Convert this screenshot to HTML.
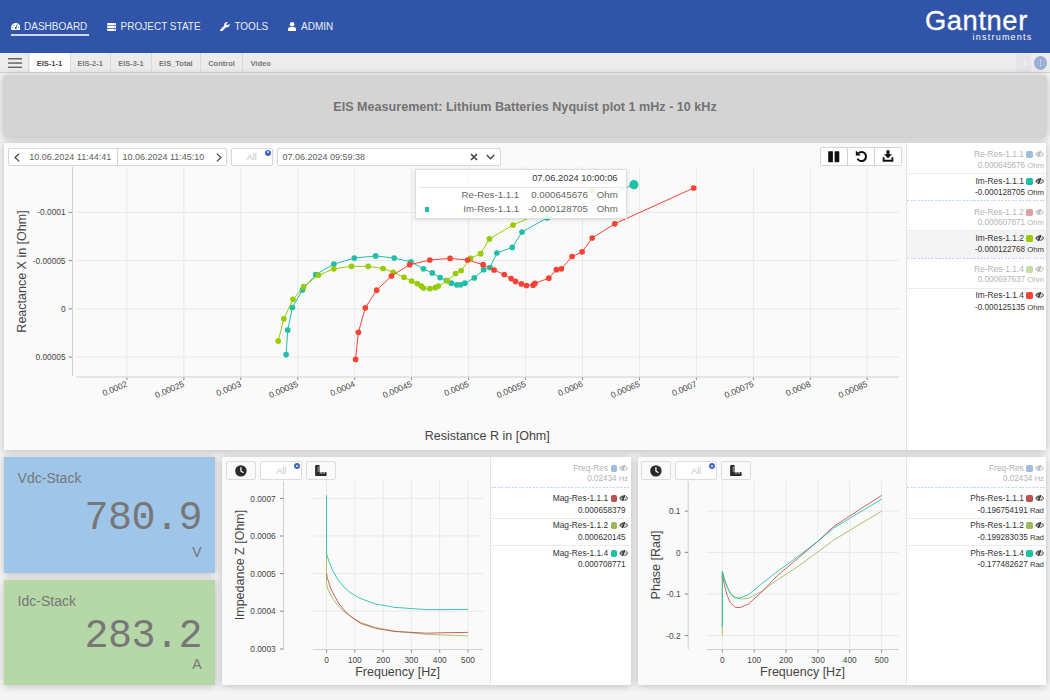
<!DOCTYPE html>
<html lang="en">
<head>
<meta charset="utf-8">
<title>GI.bench Dashboard</title>
<style>
*{box-sizing:border-box;margin:0;padding:0}
html,body{width:1050px;height:700px;overflow:hidden}
body{background:#f5f5f5;font-family:"Liberation Sans",Arial,sans-serif;color:#333;position:relative}
.abs{position:absolute}
svg text{font-family:"Liberation Sans",Arial,sans-serif}
/* header */
#hdr{position:absolute;left:0;top:0;width:1050px;height:53px;background:#3055a8}
.nav{position:absolute;top:21px;height:12px;line-height:12px;font-size:10px;color:rgba(255,255,255,.92);white-space:nowrap}
#navline{position:absolute;left:10.5px;top:34px;width:78.5px;height:1.7px;background:rgba(255,255,255,.76)}
/* tab bar */
#tabs{position:absolute;left:0;top:53px;width:1050px;height:20px;background:#ececec;border-bottom:1px solid #d2d2d2}
.tab{position:absolute;top:0;height:19px;line-height:21.4px;font-size:7.5px;font-weight:bold;color:#777;text-align:center;border-right:1px solid #dadada}
.tab.act{background:#fff;color:#444}
/* panels */
.panel{position:absolute;background:#fafafa;box-shadow:0 1px 8px rgba(0,0,0,.24)}
.leg{position:absolute;background:#fff;border-left:1px solid #e4e4e4;overflow:hidden}
.box{position:absolute;background:#fff;border:1px solid #d6d6d6;border-radius:2px;height:18px;font-size:9px;line-height:16px;color:#5e5e5e;white-space:nowrap}
.box span{position:absolute;top:0}
.box svg{position:absolute}
.vd{position:absolute;top:0;width:1px;height:16px;background:#d2d2d2}
.li{position:absolute;right:0;left:0;height:0;font-size:8.4px;line-height:10px;color:#333;white-space:nowrap}
.li .n{position:absolute;right:23px}
.li .v{position:absolute;right:3px;font-size:8.15px}
.li .v b{font-weight:normal;font-size:7.8px;letter-spacing:-.15px}
.li .v u{display:inline-block;width:2.6px;text-decoration:none}
.li .sq{position:absolute;right:13.7px;width:6.9px;height:7.1px;border-radius:1.7px}
.li .eye{position:absolute;right:2.6px}
.li.dim{color:#b4b4b4}
#l1 .n,#l3 .n{right:22.6px}#l1 .v,#l3 .v{right:2.6px}#l1 .sq,#l3 .sq{right:13.2px}#l1 .eye,#l3 .eye{right:2.1px}
.sep{position:absolute;left:0;right:0;height:1px;background:#ececec}
.dsep{position:absolute;left:0;right:0;height:1px;background:repeating-linear-gradient(90deg,#c3d4fa 0,#c3d4fa 2px,transparent 2px,transparent 3.5px)}
.tile{position:absolute;left:3.6px;width:211.5px;color:#777;box-shadow:0 1px 8px rgba(0,0,0,.24)}
.tile .t{position:absolute;left:14px;top:13px;font-size:14px;line-height:16px}
.tile .num{position:absolute;right:13px;font-family:"Liberation Mono",monospace;font-size:40px;letter-spacing:-.5px;line-height:40px}
.tile .u{position:absolute;right:13.5px;font-size:14px;line-height:16px}
.badge{width:6px;height:6px;border-radius:50%;background:#4166c0}
.badge:after{content:"";position:absolute;left:1.8px;top:1.9px;width:2.400px;height:1.800px;background:#c5d0ee;border-radius:.600px}
#tip{position:absolute;left:415px;top:169px;width:211.5px;height:50px;background:rgba(255,255,255,.86);border:1px solid #dedede;box-shadow:0 1px 4px rgba(0,0,0,.13);font-size:9.700px;line-height:11px;color:#666;white-space:nowrap}
#tip span{position:absolute}
</style>
</head>
<body>
<!-- HEADER -->
<div id="hdr">
  <svg class="abs" style="left:10.5px;top:22.8px" width="9.6" height="7.2" viewBox="0 0 20 15"><path d="M10 0A10 10 0 0 0 0 10c0 1.8.5 3.5 1.300 5h17.400A10 10 0 0 0 10 0z" fill="#fff"/><circle cx="10" cy="10.500" r="2.200" fill="#3055a8"/><path d="M10 10.500L13 3.500" stroke="#3055a8" stroke-width="1.800" stroke-linecap="round"/><circle cx="4" cy="9" r="1.100" fill="#3055a8"/><circle cx="6" cy="4.800" r="1.100" fill="#3055a8"/><circle cx="16" cy="9" r="1.100" fill="#3055a8"/></svg>
  <div class="nav" style="left:24px">DASHBOARD</div>
  <svg class="abs" style="left:107px;top:22.8px" width="9.2" height="7.9" viewBox="0 0 18 16"><rect x="0" y="0" width="18" height="4.400" rx="1" fill="#fff"/><rect x="0" y="5.800" width="18" height="4.400" rx="1" fill="#fff"/><rect x="0" y="11.600" width="18" height="4.400" rx="1" fill="#fff"/><circle cx="15" cy="2.200" r="1" fill="#3055a8"/><circle cx="15" cy="8" r="1" fill="#3055a8"/><circle cx="15" cy="13.800" r="1" fill="#3055a8"/></svg>
  <div class="nav" style="left:120.600px">PROJECT STATE</div>
  <svg class="abs" style="left:220.300px;top:21.600px" width="9.600" height="9.600" viewBox="0 0 512 512"><path fill="#fff" d="M507.730 109.100c-2.240-9.030-13.540-12.090-20.120-5.510l-74.360 74.360-67.880-11.310-11.310-67.880 74.360-74.360c6.620-6.620 3.430-17.900-5.660-20.160-47.380-11.740-99.550.910-136.580 37.930-39.640 39.640-50.550 97.100-34.050 147.200L18.740 402.760c-24.990 24.990-24.990 65.510 0 90.500 24.990 24.990 65.510 24.990 90.500 0l213.210-213.210c50.120 16.710 107.470 5.680 147.370-34.220 37.070-37.070 49.700-89.320 37.910-136.730z"/></svg>
  <div class="nav" style="left:234.400px">TOOLS</div>
  <svg class="abs" style="left:288px;top:22px" width="8.200" height="9.200" viewBox="0 0 16 18"><circle cx="8" cy="4.500" r="4.500" fill="#fff"/><path d="M0 18v-3.500C0 11.500 2.500 10 5 10h6c2.500 0 5 1.500 5 4.500V18z" fill="#fff"/></svg>
  <div class="nav" style="left:301.100px">ADMIN</div>
  <div id="navline"></div>
  <div class="abs" id="logo1" style="-webkit-text-stroke:.3px #fff;left:925px;top:5.5px;font-size:27.3px;color:#fff;letter-spacing:.6px;line-height:30px">Gantner</div>
  <div class="abs" id="logo2" style="left:972.500px;top:31.500px;font-size:9px;color:#fff;letter-spacing:1.230px;line-height:11px">instruments</div>
</div>
<!-- TABS -->
<div id="tabs">
  <svg class="abs" style="left:7.900px;top:4.900px" width="14" height="10.200" viewBox="0 0 14 10.200"><rect y="0" width="14" height="1.500" fill="#666"/><rect y="4.300" width="14" height="1.500" fill="#666"/><rect y="8.600" width="14" height="1.500" fill="#666"/></svg>
  <div class="abs" style="left:28px;top:0;width:1px;height:19px;background:#dadada"></div>
  <div class="tab act" style="left:29.500px;width:41px">EIS-1-1</div>
  <div class="tab" style="left:70.500px;width:40.300px">EIS-2-1</div>
  <div class="tab" style="left:110.800px;width:41.100px">EIS-3-1</div>
  <div class="tab" style="left:151.900px;width:49px">EIS_Total</div>
  <div class="tab" style="left:200.900px;width:42.200px">Control</div>
  <div class="tab" style="left:243.100px;width:35px;border-right:0">Video</div>
  <div class="abs" style="left:1016px;top:1px;width:15px;height:18px;background:#e3e5ea"></div>
  <svg class="abs" style="left:1021.500px;top:6.800px" width="5" height="7" viewBox="0 0 5 7"><path d="M.8.500L4 3.500.8 6.500" fill="none" stroke="#f1f1f1" stroke-width="1.300"/></svg>
  <div class="abs" style="left:1033.600px;top:3.200px;width:13.400px;height:13.400px;border-radius:50%;background:#9daed5"></div>
  <div class="abs" style="left:1039.500px;top:6.700px;width:1.700px;height:1.500px;background:#fff;box-shadow:0 2.500px 0 #e9edf5,0 5px 0 #fff"></div>
</div>
<!-- TITLE -->
<div class="abs" id="title" style="left:3.2px;top:75px;width:1043.6px;height:62px;background:#d4d4d4;border-radius:4px;box-shadow:0 1px 8px rgba(0,0,0,.24);text-align:center;line-height:64px;font-size:12.6px;font-weight:bold;color:#737373">EIS Measurement: Lithium Batteries Nyquist plot 1 mHz - 10 kHz</div>
<!-- MAIN PANEL -->
<div class="panel" id="p1" style="left:3.700px;top:143.300px;width:1042.700px;height:306.6px"></div>
<div class="panel" id="p2" style="left:222.300px;top:457px;width:408.800px;height:228px"></div>
<div class="panel" id="p3" style="left:638px;top:457px;width:408.400px;height:228px"></div>
<svg class="abs" style="left:0;top:0" width="1050" height="700" viewBox="0 0 1050 700"><g stroke="#e9e9e9" stroke-width="1"><line x1="126.9" y1="167" x2="126.9" y2="377"/><line x1="183.9" y1="167" x2="183.9" y2="377"/><line x1="240.8" y1="167" x2="240.8" y2="377"/><line x1="297.8" y1="167" x2="297.8" y2="377"/><line x1="354.7" y1="167" x2="354.7" y2="377"/><line x1="411.6" y1="167" x2="411.6" y2="377"/><line x1="468.6" y1="167" x2="468.6" y2="377"/><line x1="525.6" y1="167" x2="525.6" y2="377"/><line x1="582.5" y1="167" x2="582.5" y2="377"/><line x1="639.5" y1="167" x2="639.5" y2="377"/><line x1="696.4" y1="167" x2="696.4" y2="377"/><line x1="753.4" y1="167" x2="753.4" y2="377"/><line x1="810.3" y1="167" x2="810.3" y2="377"/><line x1="867.2" y1="167" x2="867.2" y2="377"/><line x1="76" y1="212.4" x2="899" y2="212.4"/><line x1="76" y1="260.6" x2="899" y2="260.6"/><line x1="76" y1="308.9" x2="899" y2="308.9"/><line x1="76" y1="357.1" x2="899" y2="357.1"/></g><g stroke="#d0d0d0" stroke-width="1"><line x1="72.5" y1="167" x2="72.5" y2="376"/><line x1="76" y1="377" x2="899" y2="377"/></g><g stroke="#777" stroke-width=".85"><line x1="68.5" y1="212.4" x2="72" y2="212.4"/><line x1="68.5" y1="260.6" x2="72" y2="260.6"/><line x1="68.5" y1="308.9" x2="72" y2="308.9"/><line x1="68.5" y1="357.1" x2="72" y2="357.1"/><line x1="126.9" y1="377.5" x2="126.9" y2="380"/><line x1="183.9" y1="377.5" x2="183.9" y2="380"/><line x1="240.8" y1="377.5" x2="240.8" y2="380"/><line x1="297.8" y1="377.5" x2="297.8" y2="380"/><line x1="354.7" y1="377.5" x2="354.7" y2="380"/><line x1="411.6" y1="377.5" x2="411.6" y2="380"/><line x1="468.6" y1="377.5" x2="468.6" y2="380"/><line x1="525.6" y1="377.5" x2="525.6" y2="380"/><line x1="582.5" y1="377.5" x2="582.5" y2="380"/><line x1="639.5" y1="377.5" x2="639.5" y2="380"/><line x1="696.4" y1="377.5" x2="696.4" y2="380"/><line x1="753.4" y1="377.5" x2="753.4" y2="380"/><line x1="810.3" y1="377.5" x2="810.3" y2="380"/><line x1="867.2" y1="377.5" x2="867.2" y2="380"/></g><text x="65.5" y="215.2" text-anchor="end" font-size="8.3" fill="#444">-0.0001</text><text x="65.5" y="263.5" text-anchor="end" font-size="8.3" fill="#444">-0.00005</text><text x="65.5" y="311.8" text-anchor="end" font-size="8.3" fill="#444">0</text><text x="65.5" y="360.1" text-anchor="end" font-size="8.3" fill="#444">0.00005</text><text transform="translate(127.9,386.2) rotate(-23)" text-anchor="end" font-size="8.5" fill="#444">0.0002</text><text transform="translate(184.9,386.2) rotate(-23)" text-anchor="end" font-size="8.5" fill="#444">0.00025</text><text transform="translate(241.8,386.2) rotate(-23)" text-anchor="end" font-size="8.5" fill="#444">0.0003</text><text transform="translate(298.8,386.2) rotate(-23)" text-anchor="end" font-size="8.5" fill="#444">0.00035</text><text transform="translate(355.7,386.2) rotate(-23)" text-anchor="end" font-size="8.5" fill="#444">0.0004</text><text transform="translate(412.6,386.2) rotate(-23)" text-anchor="end" font-size="8.5" fill="#444">0.00045</text><text transform="translate(469.6,386.2) rotate(-23)" text-anchor="end" font-size="8.5" fill="#444">0.0005</text><text transform="translate(526.6,386.2) rotate(-23)" text-anchor="end" font-size="8.5" fill="#444">0.00055</text><text transform="translate(583.5,386.2) rotate(-23)" text-anchor="end" font-size="8.5" fill="#444">0.0006</text><text transform="translate(640.5,386.2) rotate(-23)" text-anchor="end" font-size="8.5" fill="#444">0.00065</text><text transform="translate(697.4,386.2) rotate(-23)" text-anchor="end" font-size="8.5" fill="#444">0.0007</text><text transform="translate(754.4,386.2) rotate(-23)" text-anchor="end" font-size="8.5" fill="#444">0.00075</text><text transform="translate(811.3,386.2) rotate(-23)" text-anchor="end" font-size="8.5" fill="#444">0.0008</text><text transform="translate(868.2,386.2) rotate(-23)" text-anchor="end" font-size="8.5" fill="#444">0.00085</text><text x="487.2" y="440" text-anchor="middle" font-size="12.5" fill="#444">Resistance R in [Ohm]</text><text transform="translate(25.5,271.5) rotate(-90)" text-anchor="middle" font-size="12.5" fill="#444">Reactance X in [Ohm]</text><polyline points="286.1,354.6 287.7,330.1 292.4,307.5 302.4,289.9 315.7,274.5 333.9,264.1 354.3,258.1 375.7,255.9 394.2,258.1 410.9,261.9 423.5,268.8 432.3,272.9 440.1,277.6 446.4,280.6 451.4,283.2 456.8,284.8 460.5,284.8 464.9,283.2 474.3,277.9 483.7,269.7 490.0,267.5 496.9,253.0 512.3,247.4 522.0,232.0 547.3,217.8 633.9,184.7" fill="none" stroke="#22bfa8" stroke-width="1"/><circle cx="286.1" cy="354.6" r="2.85" fill="#22bfa8"/><circle cx="287.7" cy="330.1" r="2.85" fill="#22bfa8"/><circle cx="292.4" cy="307.5" r="2.85" fill="#22bfa8"/><circle cx="302.4" cy="289.9" r="2.85" fill="#22bfa8"/><circle cx="315.7" cy="274.5" r="2.85" fill="#22bfa8"/><circle cx="333.9" cy="264.1" r="2.85" fill="#22bfa8"/><circle cx="354.3" cy="258.1" r="2.85" fill="#22bfa8"/><circle cx="375.7" cy="255.9" r="2.85" fill="#22bfa8"/><circle cx="394.2" cy="258.1" r="2.85" fill="#22bfa8"/><circle cx="410.9" cy="261.9" r="2.85" fill="#22bfa8"/><circle cx="423.5" cy="268.8" r="2.85" fill="#22bfa8"/><circle cx="432.3" cy="272.9" r="2.85" fill="#22bfa8"/><circle cx="440.1" cy="277.6" r="2.85" fill="#22bfa8"/><circle cx="446.4" cy="280.6" r="2.85" fill="#22bfa8"/><circle cx="451.4" cy="283.2" r="2.85" fill="#22bfa8"/><circle cx="456.8" cy="284.8" r="2.85" fill="#22bfa8"/><circle cx="460.5" cy="284.8" r="2.85" fill="#22bfa8"/><circle cx="464.9" cy="283.2" r="2.85" fill="#22bfa8"/><circle cx="474.3" cy="277.9" r="2.85" fill="#22bfa8"/><circle cx="483.7" cy="269.7" r="2.85" fill="#22bfa8"/><circle cx="490.0" cy="267.5" r="2.85" fill="#22bfa8"/><circle cx="496.9" cy="253.0" r="2.85" fill="#22bfa8"/><circle cx="512.3" cy="247.4" r="2.85" fill="#22bfa8"/><circle cx="522.0" cy="232.0" r="2.85" fill="#22bfa8"/><circle cx="547.3" cy="217.8" r="2.85" fill="#22bfa8"/><polyline points="278.2,341.1 283.9,318.8 293.0,299.3 303.7,286.7 318.5,275.1 333.9,268.8 351.5,266.3 368.2,266.3 383.0,268.5 393.3,272.3 404.0,277.3 411.6,281.1 417.2,283.6 421.3,286.1 423.5,288.0 429.8,288.6 435.2,287.7 438.3,286.1 447.3,280.8 455.6,273.5 461.1,270.5 470.5,258.4 480.6,253.7 489.4,238.9 513.0,225.0 592.0,190.4" fill="none" stroke="#97cc04" stroke-width="1"/><circle cx="278.2" cy="341.1" r="2.85" fill="#97cc04"/><circle cx="283.9" cy="318.8" r="2.85" fill="#97cc04"/><circle cx="293.0" cy="299.3" r="2.85" fill="#97cc04"/><circle cx="303.7" cy="286.7" r="2.85" fill="#97cc04"/><circle cx="318.5" cy="275.1" r="2.85" fill="#97cc04"/><circle cx="333.9" cy="268.8" r="2.85" fill="#97cc04"/><circle cx="351.5" cy="266.3" r="2.85" fill="#97cc04"/><circle cx="368.2" cy="266.3" r="2.85" fill="#97cc04"/><circle cx="383.0" cy="268.5" r="2.85" fill="#97cc04"/><circle cx="393.3" cy="272.3" r="2.85" fill="#97cc04"/><circle cx="404.0" cy="277.3" r="2.85" fill="#97cc04"/><circle cx="411.6" cy="281.1" r="2.85" fill="#97cc04"/><circle cx="417.2" cy="283.6" r="2.85" fill="#97cc04"/><circle cx="421.3" cy="286.1" r="2.85" fill="#97cc04"/><circle cx="423.5" cy="288.0" r="2.85" fill="#97cc04"/><circle cx="429.8" cy="288.6" r="2.85" fill="#97cc04"/><circle cx="435.2" cy="287.7" r="2.85" fill="#97cc04"/><circle cx="438.3" cy="286.1" r="2.85" fill="#97cc04"/><circle cx="447.3" cy="280.8" r="2.85" fill="#97cc04"/><circle cx="455.6" cy="273.5" r="2.85" fill="#97cc04"/><circle cx="461.1" cy="270.5" r="2.85" fill="#97cc04"/><circle cx="470.5" cy="258.4" r="2.85" fill="#97cc04"/><circle cx="480.6" cy="253.7" r="2.85" fill="#97cc04"/><circle cx="489.4" cy="238.9" r="2.85" fill="#97cc04"/><circle cx="513.0" cy="225.0" r="2.85" fill="#97cc04"/><circle cx="592.0" cy="190.4" r="2.85" fill="#97cc04"/><polyline points="355.6,359.4 358.4,332.3 365.3,307.8 376.7,290.2 391.4,276.0 409.7,264.7 429.8,260.0 450.1,258.4 467.6,260.0 483.1,264.7 494.1,270.0 504.2,274.5 511.1,278.6 515.5,281.4 521.4,283.9 526.5,285.5 533.1,285.2 535.0,283.3 548.8,278.2 556.4,269.7 561.4,268.8 572.1,256.5 582.1,251.8 592.2,238.0 614.8,223.8 693.7,188.0" fill="none" stroke="#f44336" stroke-width="1"/><circle cx="355.6" cy="359.4" r="2.85" fill="#f44336"/><circle cx="358.4" cy="332.3" r="2.85" fill="#f44336"/><circle cx="365.3" cy="307.8" r="2.85" fill="#f44336"/><circle cx="376.7" cy="290.2" r="2.85" fill="#f44336"/><circle cx="391.4" cy="276.0" r="2.85" fill="#f44336"/><circle cx="409.7" cy="264.7" r="2.85" fill="#f44336"/><circle cx="429.8" cy="260.0" r="2.85" fill="#f44336"/><circle cx="450.1" cy="258.4" r="2.85" fill="#f44336"/><circle cx="467.6" cy="260.0" r="2.85" fill="#f44336"/><circle cx="483.1" cy="264.7" r="2.85" fill="#f44336"/><circle cx="494.1" cy="270.0" r="2.85" fill="#f44336"/><circle cx="504.2" cy="274.5" r="2.85" fill="#f44336"/><circle cx="511.1" cy="278.6" r="2.85" fill="#f44336"/><circle cx="515.5" cy="281.4" r="2.85" fill="#f44336"/><circle cx="521.4" cy="283.9" r="2.85" fill="#f44336"/><circle cx="526.5" cy="285.5" r="2.85" fill="#f44336"/><circle cx="533.1" cy="285.2" r="2.85" fill="#f44336"/><circle cx="535.0" cy="283.3" r="2.85" fill="#f44336"/><circle cx="548.8" cy="278.2" r="2.85" fill="#f44336"/><circle cx="556.4" cy="269.7" r="2.85" fill="#f44336"/><circle cx="561.4" cy="268.8" r="2.85" fill="#f44336"/><circle cx="572.1" cy="256.5" r="2.85" fill="#f44336"/><circle cx="582.1" cy="251.8" r="2.85" fill="#f44336"/><circle cx="592.2" cy="238.0" r="2.85" fill="#f44336"/><circle cx="614.8" cy="223.8" r="2.85" fill="#f44336"/><circle cx="693.7" cy="188.0" r="2.85" fill="#f44336"/><circle cx="633.9" cy="184.7" r="4.6" fill="#22bfa8"/></svg>
<svg class="abs" style="left:0;top:0" width="1050" height="700" viewBox="0 0 1050 700"><g stroke="#e9e9e9" stroke-width="1"><line x1="326.5" y1="481" x2="326.5" y2="649.5"/><line x1="354.8" y1="481" x2="354.8" y2="649.5"/><line x1="383.1" y1="481" x2="383.1" y2="649.5"/><line x1="411.4" y1="481" x2="411.4" y2="649.5"/><line x1="439.7" y1="481" x2="439.7" y2="649.5"/><line x1="468.0" y1="481" x2="468.0" y2="649.5"/><line x1="312.7" y1="498.4" x2="483.2" y2="498.4"/><line x1="312.7" y1="536.0" x2="483.2" y2="536.0"/><line x1="312.7" y1="573.6" x2="483.2" y2="573.6"/><line x1="312.7" y1="611.2" x2="483.2" y2="611.2"/></g><g stroke="#d0d0d0" stroke-width="1"><line x1="283.5" y1="481" x2="283.5" y2="649.5"/><line x1="312.7" y1="649.5" x2="483.2" y2="649.5"/></g><g stroke="#777" stroke-width=".85"><line x1="280.0" y1="498.4" x2="283.5" y2="498.4"/><line x1="280.0" y1="536.0" x2="283.5" y2="536.0"/><line x1="280.0" y1="573.6" x2="283.5" y2="573.6"/><line x1="280.0" y1="611.2" x2="283.5" y2="611.2"/><line x1="280.0" y1="649.0" x2="283.5" y2="649.0"/><line x1="326.5" y1="650" x2="326.5" y2="652.5"/><line x1="354.8" y1="650" x2="354.8" y2="652.5"/><line x1="383.1" y1="650" x2="383.1" y2="652.5"/><line x1="411.4" y1="650" x2="411.4" y2="652.5"/><line x1="439.7" y1="650" x2="439.7" y2="652.5"/><line x1="468.0" y1="650" x2="468.0" y2="652.5"/></g><text x="275.7" y="501.6" text-anchor="end" font-size="8.3" fill="#444">0.0007</text><text x="275.7" y="539.2" text-anchor="end" font-size="8.3" fill="#444">0.0006</text><text x="275.7" y="576.8" text-anchor="end" font-size="8.3" fill="#444">0.0005</text><text x="275.7" y="614.4" text-anchor="end" font-size="8.3" fill="#444">0.0004</text><text x="275.7" y="652.2" text-anchor="end" font-size="8.3" fill="#444">0.0003</text><text x="326.5" y="663" text-anchor="middle" font-size="8.3" fill="#444">0</text><text x="354.8" y="663" text-anchor="middle" font-size="8.3" fill="#444">100</text><text x="383.1" y="663" text-anchor="middle" font-size="8.3" fill="#444">200</text><text x="411.4" y="663" text-anchor="middle" font-size="8.3" fill="#444">300</text><text x="439.7" y="663" text-anchor="middle" font-size="8.3" fill="#444">400</text><text x="468.0" y="663" text-anchor="middle" font-size="8.3" fill="#444">500</text><text x="397.6" y="675.5" text-anchor="middle" font-size="12.5" fill="#444">Frequency [Hz]</text><text transform="translate(244.2,565) rotate(-90)" text-anchor="middle" font-size="12.5" fill="#444">Impedance Z [Ohm]</text><polyline points="326.5,551.8 326.5,583.4 327.5,588.2 331.9,597.2 336.7,604.0 344.0,611.8 352.5,617.9 361.0,622.5 375.6,627.6 395.0,631.2 412.0,632.9 426.6,634.4 446.0,635.1 468.1,635.8" fill="none" stroke="#9bbb59" stroke-width=".95" stroke-opacity=".92" stroke-linejoin="round"/><polyline points="326.5,573.7 327.5,578.5 330.6,588.2 334.3,595.5 339.1,604.0 345.2,611.3 352.5,617.9 361.0,623.5 375.6,628.3 395.0,631.5 412.0,632.4 426.6,633.2 446.0,632.7 468.1,632.4" fill="none" stroke="#c0504d" stroke-width=".95" stroke-opacity=".92" stroke-linejoin="round"/><polyline points="326.5,495.2 326.5,551.8 327.0,555.4 329.4,562.7 333.1,571.2 337.9,579.7 344.0,587.0 350.1,592.6 361.0,598.7 375.6,604.0 395.0,607.4 412.0,608.6 426.6,609.6 446.0,609.6 468.1,609.4" fill="none" stroke="#22bfa8" stroke-width=".95" stroke-opacity=".92" stroke-linejoin="round"/><g stroke="#e9e9e9" stroke-width="1"><line x1="722.3" y1="481" x2="722.3" y2="649.5"/><line x1="754.2" y1="481" x2="754.2" y2="649.5"/><line x1="786.0" y1="481" x2="786.0" y2="649.5"/><line x1="817.9" y1="481" x2="817.9" y2="649.5"/><line x1="849.7" y1="481" x2="849.7" y2="649.5"/><line x1="881.6" y1="481" x2="881.6" y2="649.5"/><line x1="706.5" y1="511.1" x2="898.6" y2="511.1"/><line x1="706.5" y1="552.4" x2="898.6" y2="552.4"/><line x1="706.5" y1="594.0" x2="898.6" y2="594.0"/><line x1="706.5" y1="635.6" x2="898.6" y2="635.6"/></g><g stroke="#d0d0d0" stroke-width="1"><line x1="688.2" y1="481" x2="688.2" y2="649.5"/><line x1="706.5" y1="649.5" x2="898.6" y2="649.5"/></g><g stroke="#777" stroke-width=".85"><line x1="684.7" y1="511.1" x2="688.2" y2="511.1"/><line x1="684.7" y1="552.4" x2="688.2" y2="552.4"/><line x1="684.7" y1="594.0" x2="688.2" y2="594.0"/><line x1="684.7" y1="635.6" x2="688.2" y2="635.6"/><line x1="722.3" y1="650" x2="722.3" y2="652.5"/><line x1="754.2" y1="650" x2="754.2" y2="652.5"/><line x1="786.0" y1="650" x2="786.0" y2="652.5"/><line x1="817.9" y1="650" x2="817.9" y2="652.5"/><line x1="849.7" y1="650" x2="849.7" y2="652.5"/><line x1="881.6" y1="650" x2="881.6" y2="652.5"/></g><text x="680.5" y="514.3" text-anchor="end" font-size="8.3" fill="#444">0.1</text><text x="680.5" y="555.6" text-anchor="end" font-size="8.3" fill="#444">0</text><text x="680.5" y="597.2" text-anchor="end" font-size="8.3" fill="#444">-0.1</text><text x="680.5" y="638.8" text-anchor="end" font-size="8.3" fill="#444">-0.2</text><text x="722.3" y="663" text-anchor="middle" font-size="8.3" fill="#444">0</text><text x="754.2" y="663" text-anchor="middle" font-size="8.3" fill="#444">100</text><text x="786.0" y="663" text-anchor="middle" font-size="8.3" fill="#444">200</text><text x="817.9" y="663" text-anchor="middle" font-size="8.3" fill="#444">300</text><text x="849.7" y="663" text-anchor="middle" font-size="8.3" fill="#444">400</text><text x="881.6" y="663" text-anchor="middle" font-size="8.3" fill="#444">500</text><text x="802.5" y="675.5" text-anchor="middle" font-size="12.5" fill="#444">Frequency [Hz]</text><text transform="translate(659.8,565) rotate(-90)" text-anchor="middle" font-size="12.5" fill="#444">Phase [Rad]</text><polyline points="722.3,635.5 722.3,572.4 724.3,579.7 727.2,586.9 730.3,593.0 735.2,597.4 741.3,599.1 748.5,598.3 760.7,591.8 777.7,579.7 797.1,567.0 817.5,552.2 833.5,540.3 849.5,530.4 881.6,511.2" fill="none" stroke="#9bbb59" stroke-width=".95" stroke-opacity=".92" stroke-linejoin="round"/><polyline points="722.3,573.6 724.3,584.5 727.2,595.4 730.3,602.7 735.2,607.3 740.0,607.6 748.5,603.9 760.7,593.0 777.7,575.3 797.1,559.0 817.5,541.6 833.5,526.7 849.5,516.1 881.6,495.4" fill="none" stroke="#c0504d" stroke-width=".95" stroke-opacity=".92" stroke-linejoin="round"/><polyline points="722.3,627.0 722.3,571.2 724.3,578.4 727.2,586.9 730.3,593.7 735.2,597.9 740.0,598.1 748.5,594.7 760.7,584.5 777.7,571.2 797.1,557.1 817.5,541.6 833.5,528.2 849.5,518.5 881.6,499.1" fill="none" stroke="#22bfa8" stroke-width=".95" stroke-opacity=".92" stroke-linejoin="round"/></svg>
<div class="leg" id="l1" style="left:906px;top:143px;width:140.400px;height:307px"><div class="abs" style="left:0;right:0;top:87.4px;height:27.3px;background:#f4f4f4"></div><div class="li dim" style="top:0"><span class="n" style="top:6.1px">Re-Res-1.1.1</span><i class="sq" style="top:7.9px;background:#a0bde1"></i><svg class="eye" style="top:8.0px" width="9.4" height="6.4" viewBox="0 0 18 12"><path d="M0.300 6C3.500 1.800 6.500.500 9 .500s5.500 1.300 8.700 5.500C14.500 10.200 11.500 11.500 9 11.500S3.500 10.200.300 6z" fill="currentColor" fill-opacity=".8"/><path d="M10.400 2.200l6 3.800-6 3.800z" fill="#fff" fill-opacity=".72"/><circle cx="5.300" cy="6.600" r="1.700" fill="#fff" fill-opacity=".55"/><path d="M13.200-.500L8.300 12.500" stroke="#fff" stroke-width="1.900"/><path d="M11.300-.300L6.400 12.300" stroke="currentColor" stroke-width="2.300"/></svg><span class="v" style="top:18.1px">0.000645676 <b>Ohm</b></span></div><div class="li" style="top:0"><span class="n" style="top:33.1px">Im-Res-1.1.1</span><i class="sq" style="top:34.9px;background:#22bfa8"></i><svg class="eye" style="top:35.0px" width="9.4" height="6.4" viewBox="0 0 18 12"><path d="M0.300 6C3.500 1.800 6.500.500 9 .500s5.500 1.300 8.700 5.500C14.500 10.200 11.500 11.500 9 11.500S3.500 10.200.300 6z" fill="currentColor" fill-opacity=".8"/><path d="M10.400 2.200l6 3.800-6 3.800z" fill="#fff" fill-opacity=".72"/><circle cx="5.300" cy="6.600" r="1.700" fill="#fff" fill-opacity=".55"/><path d="M13.200-.500L8.300 12.500" stroke="#fff" stroke-width="1.900"/><path d="M11.300-.300L6.400 12.300" stroke="currentColor" stroke-width="2.300"/></svg><span class="v" style="top:45.1px">-0.000128705 <b>Ohm</b></span></div><div class="li dim" style="top:0"><span class="n" style="top:64.1px">Re-Res-1.1.2</span><i class="sq" style="top:65.9px;background:#dea09e"></i><svg class="eye" style="top:66.0px" width="9.4" height="6.4" viewBox="0 0 18 12"><path d="M0.300 6C3.500 1.800 6.500.500 9 .500s5.500 1.300 8.700 5.500C14.500 10.200 11.500 11.500 9 11.500S3.500 10.200.300 6z" fill="currentColor" fill-opacity=".8"/><path d="M10.400 2.200l6 3.800-6 3.800z" fill="#fff" fill-opacity=".72"/><circle cx="5.300" cy="6.600" r="1.700" fill="#fff" fill-opacity=".55"/><path d="M13.200-.500L8.300 12.500" stroke="#fff" stroke-width="1.900"/><path d="M11.300-.300L6.400 12.300" stroke="currentColor" stroke-width="2.300"/></svg><span class="v" style="top:75.1px">0.000607871 <b>Ohm</b></span></div><div class="li" style="top:0"><span class="n" style="top:90.1px">Im-Res-1.1.2</span><i class="sq" style="top:91.9px;background:#97cc04"></i><svg class="eye" style="top:92.0px" width="9.4" height="6.4" viewBox="0 0 18 12"><path d="M0.300 6C3.500 1.800 6.500.500 9 .500s5.500 1.300 8.700 5.500C14.500 10.200 11.500 11.500 9 11.500S3.500 10.200.300 6z" fill="currentColor" fill-opacity=".8"/><path d="M10.400 2.200l6 3.800-6 3.800z" fill="#fff" fill-opacity=".72"/><circle cx="5.300" cy="6.600" r="1.700" fill="#fff" fill-opacity=".55"/><path d="M13.200-.500L8.300 12.500" stroke="#fff" stroke-width="1.900"/><path d="M11.300-.300L6.400 12.300" stroke="currentColor" stroke-width="2.300"/></svg><span class="v" style="top:102.1px">-0.000122768 <b>Ohm</b></span></div><div class="li dim" style="top:0"><span class="n" style="top:121.1px">Re-Res-1.1.4</span><i class="sq" style="top:122.9px;background:#c6dba6"></i><svg class="eye" style="top:123.0px" width="9.4" height="6.4" viewBox="0 0 18 12"><path d="M0.300 6C3.500 1.800 6.500.500 9 .500s5.500 1.300 8.700 5.500C14.500 10.200 11.500 11.500 9 11.500S3.500 10.200.300 6z" fill="currentColor" fill-opacity=".8"/><path d="M10.400 2.200l6 3.800-6 3.800z" fill="#fff" fill-opacity=".72"/><circle cx="5.300" cy="6.600" r="1.700" fill="#fff" fill-opacity=".55"/><path d="M13.200-.500L8.300 12.500" stroke="#fff" stroke-width="1.900"/><path d="M11.300-.300L6.400 12.300" stroke="currentColor" stroke-width="2.300"/></svg><span class="v" style="top:132.1px">0.000697637 <b>Ohm</b></span></div><div class="li" style="top:0"><span class="n" style="top:147.1px">Im-Res-1.1.4</span><i class="sq" style="top:148.9px;background:#f44336"></i><svg class="eye" style="top:149.0px" width="9.4" height="6.4" viewBox="0 0 18 12"><path d="M0.300 6C3.500 1.800 6.500.500 9 .500s5.500 1.300 8.700 5.500C14.500 10.200 11.500 11.500 9 11.500S3.500 10.200.300 6z" fill="currentColor" fill-opacity=".8"/><path d="M10.400 2.200l6 3.800-6 3.800z" fill="#fff" fill-opacity=".72"/><circle cx="5.300" cy="6.600" r="1.700" fill="#fff" fill-opacity=".55"/><path d="M13.200-.500L8.300 12.500" stroke="#fff" stroke-width="1.900"/><path d="M11.300-.300L6.400 12.300" stroke="currentColor" stroke-width="2.300"/></svg><span class="v" style="top:160.1px">-0.000125135 <b>Ohm</b></span></div><div class="sep" style="top:30px"></div><div class="sep" style="top:87px"></div><div class="sep" style="top:145px"></div><div class="dsep" style="top:57.0px"></div><div class="dsep" style="top:114.5px"></div></div>
<div class="leg" id="l2" style="left:490.300px;top:457px;width:140.800px;height:228px"><div class="li dim" style="top:0"><span class="n" style="top:6.1px">Freq-Res</span><i class="sq" style="top:7.9px;background:#a0bde1"></i><svg class="eye" style="top:8.0px" width="9.4" height="6.4" viewBox="0 0 18 12"><path d="M0.300 6C3.500 1.800 6.500.500 9 .500s5.500 1.300 8.700 5.500C14.500 10.200 11.500 11.500 9 11.500S3.500 10.200.300 6z" fill="currentColor" fill-opacity=".8"/><path d="M10.400 2.200l6 3.800-6 3.800z" fill="#fff" fill-opacity=".72"/><circle cx="5.300" cy="6.600" r="1.700" fill="#fff" fill-opacity=".55"/><path d="M13.200-.500L8.300 12.500" stroke="#fff" stroke-width="1.900"/><path d="M11.300-.300L6.400 12.300" stroke="currentColor" stroke-width="2.300"/></svg><span class="v" style="top:17.1px">0.02434 <b>Hz</b></span></div><div class="dsep" style="top:29.5px"></div><div class="li" style="top:0"><span class="n" style="top:36.1px">Mag-Res-1.1.1</span><i class="sq" style="top:37.9px;background:#c0504d"></i><svg class="eye" style="top:38.0px" width="9.4" height="6.4" viewBox="0 0 18 12"><path d="M0.300 6C3.500 1.800 6.500.500 9 .500s5.500 1.300 8.700 5.500C14.500 10.200 11.500 11.500 9 11.500S3.500 10.200.300 6z" fill="currentColor" fill-opacity=".8"/><path d="M10.400 2.200l6 3.800-6 3.800z" fill="#fff" fill-opacity=".72"/><circle cx="5.300" cy="6.600" r="1.700" fill="#fff" fill-opacity=".55"/><path d="M13.200-.500L8.300 12.500" stroke="#fff" stroke-width="1.900"/><path d="M11.300-.300L6.400 12.300" stroke="currentColor" stroke-width="2.300"/></svg><span class="v" style="top:49.1px">0.000658379<u></u></span></div><div class="li" style="top:0"><span class="n" style="top:63.1px">Mag-Res-1.1.2</span><i class="sq" style="top:64.9px;background:#9bbb59"></i><svg class="eye" style="top:65.0px" width="9.4" height="6.4" viewBox="0 0 18 12"><path d="M0.300 6C3.500 1.800 6.500.500 9 .500s5.500 1.300 8.700 5.500C14.500 10.200 11.500 11.500 9 11.500S3.500 10.200.300 6z" fill="currentColor" fill-opacity=".8"/><path d="M10.400 2.200l6 3.800-6 3.800z" fill="#fff" fill-opacity=".72"/><circle cx="5.300" cy="6.600" r="1.700" fill="#fff" fill-opacity=".55"/><path d="M13.200-.500L8.300 12.500" stroke="#fff" stroke-width="1.900"/><path d="M11.300-.300L6.400 12.300" stroke="currentColor" stroke-width="2.300"/></svg><span class="v" style="top:76.1px">0.000620145<u></u></span></div><div class="li" style="top:0"><span class="n" style="top:91.1px">Mag-Res-1.1.4</span><i class="sq" style="top:92.9px;background:#22bfa8"></i><svg class="eye" style="top:93.0px" width="9.4" height="6.4" viewBox="0 0 18 12"><path d="M0.300 6C3.500 1.800 6.500.500 9 .500s5.500 1.300 8.700 5.500C14.500 10.200 11.500 11.500 9 11.500S3.500 10.200.300 6z" fill="currentColor" fill-opacity=".8"/><path d="M10.400 2.200l6 3.800-6 3.800z" fill="#fff" fill-opacity=".72"/><circle cx="5.300" cy="6.600" r="1.700" fill="#fff" fill-opacity=".55"/><path d="M13.200-.500L8.300 12.500" stroke="#fff" stroke-width="1.900"/><path d="M11.300-.300L6.400 12.300" stroke="currentColor" stroke-width="2.300"/></svg><span class="v" style="top:103.1px">0.000708771<u></u></span></div><div class="sep" style="top:61px"></div><div class="sep" style="top:88px"></div></div>
<div class="leg" id="l3" style="left:906px;top:457px;width:140.400px;height:228px"><div class="li dim" style="top:0"><span class="n" style="top:6.1px">Freq-Res</span><i class="sq" style="top:7.9px;background:#a0bde1"></i><svg class="eye" style="top:8.0px" width="9.4" height="6.4" viewBox="0 0 18 12"><path d="M0.300 6C3.500 1.800 6.500.500 9 .500s5.500 1.300 8.700 5.500C14.500 10.200 11.500 11.500 9 11.500S3.500 10.200.300 6z" fill="currentColor" fill-opacity=".8"/><path d="M10.400 2.200l6 3.800-6 3.800z" fill="#fff" fill-opacity=".72"/><circle cx="5.300" cy="6.600" r="1.700" fill="#fff" fill-opacity=".55"/><path d="M13.200-.500L8.300 12.500" stroke="#fff" stroke-width="1.900"/><path d="M11.300-.300L6.400 12.300" stroke="currentColor" stroke-width="2.300"/></svg><span class="v" style="top:17.1px">0.02434 <b>Hz</b></span></div><div class="dsep" style="top:29.5px"></div><div class="li" style="top:0"><span class="n" style="top:36.1px">Phs-Res-1.1.1</span><i class="sq" style="top:37.9px;background:#c0504d"></i><svg class="eye" style="top:38.0px" width="9.4" height="6.4" viewBox="0 0 18 12"><path d="M0.300 6C3.500 1.800 6.500.500 9 .500s5.500 1.300 8.700 5.500C14.500 10.200 11.500 11.500 9 11.500S3.500 10.200.300 6z" fill="currentColor" fill-opacity=".8"/><path d="M10.400 2.200l6 3.800-6 3.800z" fill="#fff" fill-opacity=".72"/><circle cx="5.300" cy="6.600" r="1.700" fill="#fff" fill-opacity=".55"/><path d="M13.200-.500L8.300 12.500" stroke="#fff" stroke-width="1.900"/><path d="M11.300-.300L6.400 12.300" stroke="currentColor" stroke-width="2.300"/></svg><span class="v" style="top:49.1px">-0.196754191 <b>Rad</b></span></div><div class="li" style="top:0"><span class="n" style="top:63.1px">Phs-Res-1.1.2</span><i class="sq" style="top:64.9px;background:#9bbb59"></i><svg class="eye" style="top:65.0px" width="9.4" height="6.4" viewBox="0 0 18 12"><path d="M0.300 6C3.500 1.800 6.500.500 9 .500s5.500 1.300 8.700 5.500C14.500 10.200 11.500 11.500 9 11.500S3.500 10.200.300 6z" fill="currentColor" fill-opacity=".8"/><path d="M10.400 2.200l6 3.800-6 3.800z" fill="#fff" fill-opacity=".72"/><circle cx="5.300" cy="6.600" r="1.700" fill="#fff" fill-opacity=".55"/><path d="M13.200-.500L8.300 12.500" stroke="#fff" stroke-width="1.900"/><path d="M11.300-.300L6.400 12.300" stroke="currentColor" stroke-width="2.300"/></svg><span class="v" style="top:76.1px">-0.199283035 <b>Rad</b></span></div><div class="li" style="top:0"><span class="n" style="top:91.1px">Phs-Res-1.1.4</span><i class="sq" style="top:92.9px;background:#22bfa8"></i><svg class="eye" style="top:93.0px" width="9.4" height="6.4" viewBox="0 0 18 12"><path d="M0.300 6C3.500 1.800 6.500.500 9 .500s5.500 1.300 8.700 5.500C14.500 10.200 11.500 11.500 9 11.500S3.500 10.200.300 6z" fill="currentColor" fill-opacity=".8"/><path d="M10.400 2.200l6 3.800-6 3.800z" fill="#fff" fill-opacity=".72"/><circle cx="5.300" cy="6.600" r="1.700" fill="#fff" fill-opacity=".55"/><path d="M13.200-.500L8.300 12.500" stroke="#fff" stroke-width="1.900"/><path d="M11.300-.300L6.400 12.300" stroke="currentColor" stroke-width="2.300"/></svg><span class="v" style="top:103.1px">-0.177482627 <b>Rad</b></span></div><div class="sep" style="top:61px"></div><div class="sep" style="top:88px"></div></div>
<!-- main toolbar -->
<div class="box" style="left:7.700px;top:147.500px;width:219.300px">
  <svg style="left:5.500px;top:4px" width="6" height="9" viewBox="0 0 6 9"><path d="M5.200.600L1 4.500l4.200 3.900" fill="none" stroke="#444" stroke-width="1.250"/></svg>
  <span style="left:20.600px">10.06.2024 11:44:41</span>
  <div class="vd" style="left:108.800px"></div>
  <span style="left:113.700px">10.06.2024 11:45:10</span>
  <svg style="left:207.800px;top:4px" width="6" height="9" viewBox="0 0 6 9"><path d="M.800.600L5 4.500.8 8.400" fill="none" stroke="#444" stroke-width="1.250"/></svg>
</div>
<div class="box" style="left:231.200px;top:147.500px;width:42px;color:#c4c4c4"><span style="left:14.600px">All</span></div>
<div class="abs badge" style="left:265px;top:149.500px"></div>
<div class="box" style="left:277.200px;top:147.500px;width:223.500px">
  <span style="left:4.200px">07.06.2024 09:59:38</span>
  <svg style="left:192.300px;top:4.500px" width="8" height="8" viewBox="0 0 8 8"><path d="M1 1l6 6M7 1L1 7" stroke="#444" stroke-width="1.700"/></svg>
  <svg style="left:207.500px;top:5.500px" width="9" height="6" viewBox="0 0 9 6"><path d="M.800 1l3.700 3.700L8.200 1" fill="none" stroke="#444" stroke-width="1.500"/></svg>
</div>
<div class="box" style="left:819.800px;top:147.300px;width:82.700px;height:18.600px">
  <div class="vd" style="left:26.500px;height:16.600px"></div><div class="vd" style="left:53.700px;height:16.600px"></div>
  <svg style="left:7.300px;top:2.300px" width="12" height="12" viewBox="0 0 12 12"><rect x=".200" y=".200" width="4.700" height="11" rx=".600" fill="#111"/><rect x="6.600" y=".200" width="4.700" height="11" rx=".600" fill="#111"/></svg>
  <svg style="left:34.300px;top:2px" width="13" height="13" viewBox="0 0 13 13"><path d="M3.300 3.400A4.500 4.500 0 1 1 2.500 8.600" fill="none" stroke="#111" stroke-width="2.050"/><path d="M.800.600v4.900h4.900z" fill="#111"/></svg>
  <svg style="left:61.500px;top:2.200px" width="12" height="12" viewBox="0 0 12 12"><path d="M4.500.300h3v4h2.600L6 8.300 1.900 4.300h2.600z" fill="#111"/><path d="M1.600 7.200v3.500h8.800V7.200" fill="none" stroke="#111" stroke-width="1.900"/></svg>
</div>
<!-- tooltip -->
<div id="tip">
  <span style="right:8px;top:2.700px;color:#333;font-size:9.300px">07.06.2024 10:00:06</span>
  <div class="abs" style="left:3px;right:3px;top:17px;height:1px;background:#e4e4e4"></div>
  <span style="right:106.300px;top:19px">Re-Res-1.1.1</span><span style="right:37.700px;top:19px">0.000645676</span><span style="left:180.800px;top:19px">Ohm</span>
  <div class="abs" style="left:8.700px;top:37.400px;width:4.400px;height:4.400px;background:#22bfa8"></div>
  <span style="right:106.300px;top:33px">Im-Res-1.1.1</span><span style="right:37.700px;top:33px">-0.000128705</span><span style="left:180.800px;top:33px">Ohm</span>
</div>
<!-- TILES -->
<div class="tile" style="top:457px;height:116px;background:#9fc5e8"><div class="t">Vdc-Stack</div><div class="num" style="top:42px">780.9</div><div class="u" style="top:87px">V</div></div>
<div class="tile" style="top:580px;height:105px;background:#b6d7a8"><div class="t">Idc-Stack</div><div class="num" style="top:37px">283.2</div><div class="u" style="top:76px">A</div></div>
<!-- small toolbars -->
<div class="box" style="left:226.2px;top:461.2px;width:29.6px;height:19px;background:#fafafa;border-color:#dcdcdc"><svg style="left:7.9px;top:2.7px" width="11.8" height="11.8" viewBox="0 0 20 20"><circle cx="10" cy="10" r="9.7" fill="#2a2a2a"/><path d="M10 4.300V10l3.600 2.600" fill="none" stroke="#fff" stroke-width="2.100" stroke-linecap="round"/></svg></div><div class="box" style="left:260.1px;top:461.2px;width:41.9px;height:19px;color:#c8c8c8;border-color:#dcdcdc"><span style="left:15.2px;top:1px">All</span></div><div class="abs badge" style="left:293.9px;top:463px"></div><div class="box" style="left:306.2px;top:461.2px;width:29.6px;height:19px;background:#fafafa;border-color:#dcdcdc"><svg style="left:7.800px;top:2.500px" width="11.700" height="11.500" viewBox="0 0 20 20"><path d="M2 0h4.200a2 2 0 0 1 2 2v10h9.800a2 2 0 0 1 2 2v4a2 2 0 0 1-2 2h-16a2 2 0 0 1-2-2v-16a2 2 0 0 1 2-2z" fill="#2b2b2b"/><path d="M4.300 4h4M4.300 7.300h4M4.300 10.600h4M9 15v-2.800M11.500 15v-2.800M14 15v-2.800M16.500 15v-2.800" stroke="#fafafa" stroke-width="1.200"/></svg></div><div class="box" style="left:641.2px;top:461.2px;width:29.6px;height:19px;background:#fafafa;border-color:#dcdcdc"><svg style="left:7.9px;top:2.7px" width="11.8" height="11.8" viewBox="0 0 20 20"><circle cx="10" cy="10" r="9.7" fill="#2a2a2a"/><path d="M10 4.300V10l3.600 2.600" fill="none" stroke="#fff" stroke-width="2.100" stroke-linecap="round"/></svg></div><div class="box" style="left:675.1px;top:461.2px;width:41.9px;height:19px;color:#c8c8c8;border-color:#dcdcdc"><span style="left:15.2px;top:1px">All</span></div><div class="abs badge" style="left:708.9px;top:463px"></div><div class="box" style="left:721.2px;top:461.2px;width:29.6px;height:19px;background:#fafafa;border-color:#dcdcdc"><svg style="left:7.800px;top:2.500px" width="11.700" height="11.500" viewBox="0 0 20 20"><path d="M2 0h4.200a2 2 0 0 1 2 2v10h9.800a2 2 0 0 1 2 2v4a2 2 0 0 1-2 2h-16a2 2 0 0 1-2-2v-16a2 2 0 0 1 2-2z" fill="#2b2b2b"/><path d="M4.300 4h4M4.300 7.300h4M4.300 10.600h4M9 15v-2.800M11.500 15v-2.800M14 15v-2.800M16.500 15v-2.800" stroke="#fafafa" stroke-width="1.200"/></svg></div>
</body>
</html>
